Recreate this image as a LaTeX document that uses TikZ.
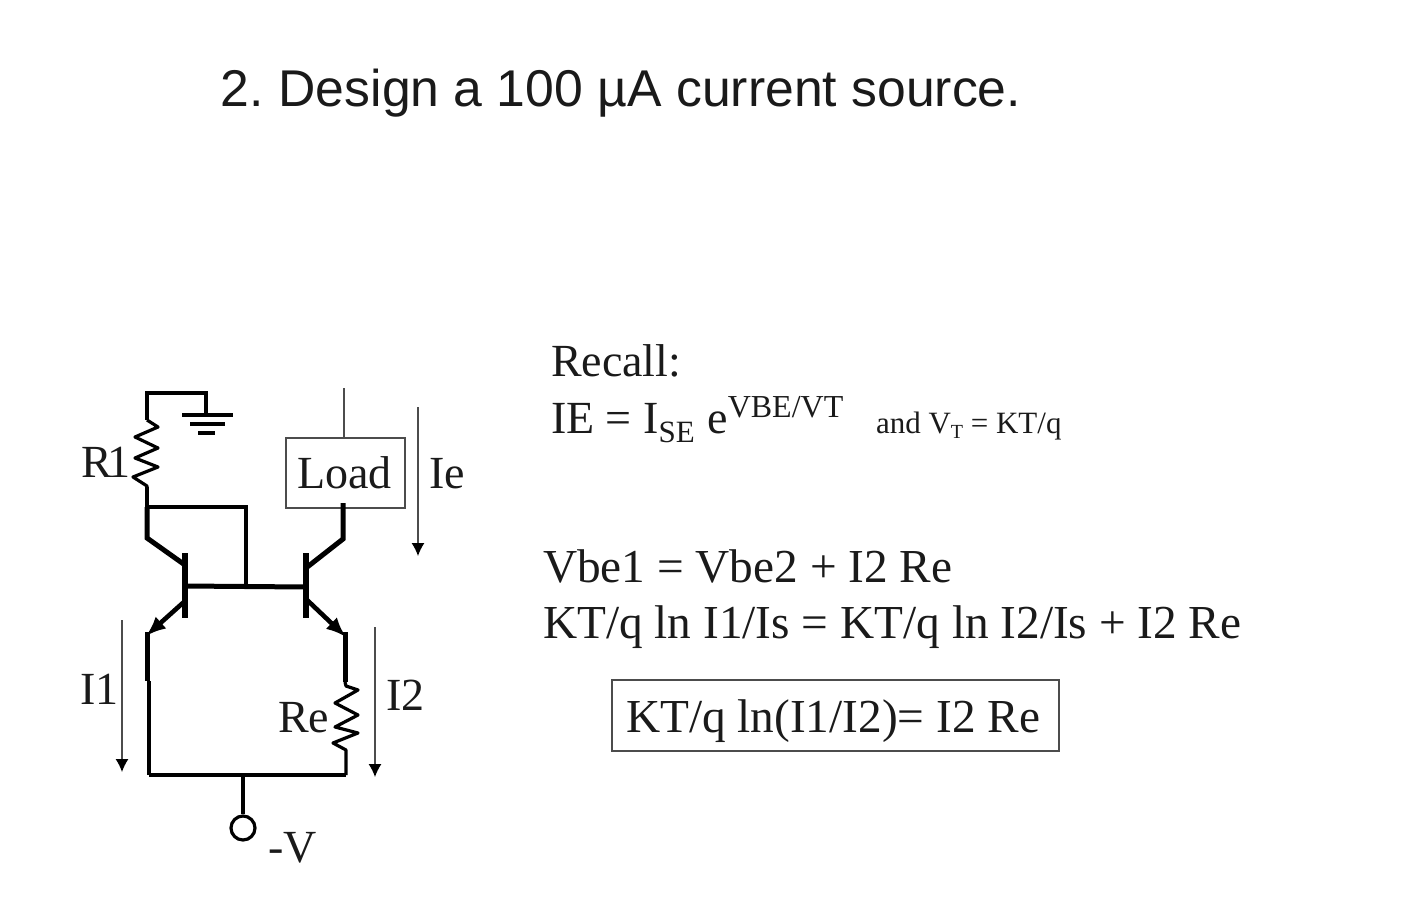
\documentclass[tikz,border=0pt]{standalone}
\usepackage{fontspec}
\setmainfont{Liberation Serif}
\newfontfamily\titlefont{Liberation Sans}
\usetikzlibrary{arrows.meta}
\definecolor{ink}{HTML}{1A1A1A}
\newcommand{\subs}[2]{\raisebox{#1}{#2}}
\tikzset{
  x=0.5pt,y=-0.5pt,
  lab/.style={anchor=base west,inner sep=0pt,outer sep=0pt,text=ink,font=\fontsize{23}{26}\selectfont},
  eqn/.style={lab,font=\fontsize{23.65}{26}\selectfont},
  small/.style={lab,font=\fontsize{15.5}{18}\selectfont},
  title/.style={anchor=base west,inner sep=0pt,text=ink,font=\titlefont\fontsize{25.85}{30}\selectfont},
  wire/.style={draw=black,line width=1.7pt,line cap=square},
  heavy/.style={draw=black,line width=2.5pt},
  res/.style={draw=black,line width=1.6pt,line join=round},
  thinwire/.style={draw=black!70,line width=0.6pt},
  cur/.style={draw=black!70,line width=0.6pt,-{Latex[length=6.5pt,width=6.5pt,black]}},
  boxed/.style={draw=black!70,line width=0.6pt,fill=none},
  arrowed/.style={draw=black,line width=2.3pt,-{Latex[length=10pt,width=8pt,black]}}
}
\begin{document}
\begin{tikzpicture}
\useasboundingbox (0,0) rectangle (1426,911);
\node[title] (ttl) at (220,106) {2.\hspace{-2pt} Design a 100 µA current source.};

% junctions
\coordinate (gndtop) at (206,393);
\coordinate (gndn) at (206,415);
\coordinate (ltop) at (147,393);
\coordinate (r1a) at (147,420);
\coordinate (r1b) at (147,487);
\coordinate (jl) at (147,507);
\coordinate (cl) at (147,538);
\coordinate (clb) at (185,565);
\coordinate (jt) at (246,507);
\coordinate (jb) at (246,587);
\coordinate (bl) at (185,586);
\coordinate (br) at (306,587);
\coordinate (bltop) at (185,553);
\coordinate (blbot) at (185,618);
\coordinate (brtop) at (306,553);
\coordinate (brbot) at (306,618);
\coordinate (crb) at (306,568);
\coordinate (cr) at (343,539);
\coordinate (el) at (185,601);
\coordinate (eln) at (146,636);
\coordinate (elv) at (147,632);
\coordinate (er) at (306,599);
\coordinate (ern) at (346,637);
\coordinate (erv) at (345,632);
\coordinate (lv) at (147,681);
\coordinate (lw) at (149,681);
\coordinate (bot1) at (149,775);
\coordinate (rv) at (345,682);
\coordinate (re2) at (346,750);
\coordinate (bot2) at (346,775);
\coordinate (stem) at (243,775);

% ground
\draw[wire] (r1a) -- (ltop) -- (gndtop) -- (gndn);
\draw[wire] (182,415) -- (233,415);
\draw[wire] (190,424) -- (225,424);
\draw[wire] (198,433) -- (215,433);

% R1
\draw[res] (r1a) -- ++(11,7) -- ++(-23,10) -- ++(23,11) -- ++(-23,10) -- ++(23,9) -- ++(-25,10) -- ++(14,9) -- (r1b);
\draw[wire] (r1b) -- (jl);
\draw[heavy] (jl) -- (cl) -- (clb);
\draw[wire] (jl) -- (jt) -- (jb);
\draw[heavy] (bl) -- (br);
\draw[line width=2.8pt] (bltop) -- (blbot);
\draw[line width=2.8pt] (brtop) -- (brbot);

% load and right collector
\node[boxed,minimum width=59.5pt,minimum height=35pt,inner sep=0pt] (load) at (345.5,473) {};
\node[lab] (loadt) at (297,488) {Load};
\coordinate (supply) at (344,388);
\draw[thinwire] (supply) -- (supply |- load.north);
\draw[heavy] (343,503) -- (cr) -- (crb);

% emitters
\draw[arrowed] (el) -- (eln);
\draw[arrowed] (er) -- (ern);
\draw[heavy] (elv) -- (lv);
\draw[wire] (lw) -- (bot1);
\draw[heavy] (erv) -- (rv);

% Re
\draw[res] (rv) -- (346,686) -- ++(12,4) -- ++(-23,13) -- ++(23,12) -- ++(-23,12) -- ++(23,6) -- ++(-25,10) -- ++(13,7) -- (re2) -- (bot2);
\draw[wire] (bot1) -- (bot2);

% output
\node[draw=black,line width=1.6pt,circle,minimum size=12pt,inner sep=0pt] (vm) at (243,828) {};
\draw[wire] (stem) -- (vm.north);

% current arrows
\draw[cur] (418,407) -- (418,556);
\draw[cur] (122,620) -- (122,772);
\draw[cur] (375,627) -- (375,777);

% circuit labels
\node[lab] (ie) at (429,488) {Ie};
\node[lab] (r1) at (82,477) {R\hspace{-2.5pt}1};
\node[lab] (i1) at (80,704) {I1};
\node[lab] (i2) at (386,710) {I2};
\node[lab] (re) at (278,732) {Re};
\node[lab] (mv) at (268,862) {-V};

% equations
\node[lab] (recall) at (551,376) {Recall:};
\node[lab] (ieq) at (551,433) {IE = I\subs{-4.5pt}{\fontsize{15.5}{18}\selectfont SE}\hspace{0.5pt} e\subs{8pt}{\fontsize{16}{18}\selectfont VBE/VT}};
\node[small] (vt) at (876,433) {and V\subs{-2.5pt}{\fontsize{10}{12}\selectfont T} = KT/q};
\node[eqn] (eq1) at (543,582) {Vbe1 = Vbe2 + I2 Re};
\node[eqn] (eq2) at (543,638) {KT/q ln I1/Is = KT/q ln I2/Is + I2 Re};
\node[boxed,minimum width=223.5pt,minimum height=35.5pt,inner sep=0pt] (resbox) at (835.5,715.5) {};
\node[eqn] (eq3) at (626,732) {KT/q ln(I1/I2)= I2 Re};
\end{tikzpicture}
\end{document}
